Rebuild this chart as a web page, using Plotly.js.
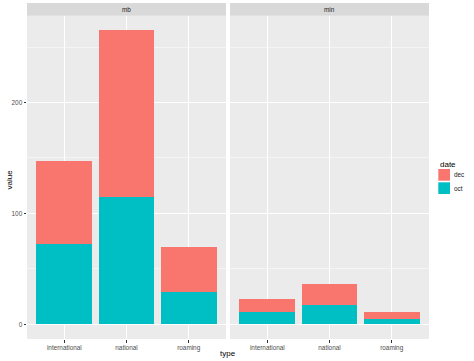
<!DOCTYPE html>
<html>
<head>
<meta charset="utf-8">
<script src="https://cdn.plot.ly/plotly-3.0.1.min.js"></script>
<style>html,body{margin:0;padding:0;background:#fff}#chart{width:474px;height:361px}</style>
</head>
<body>
<div id="chart"></div>
<script>
// ---- data ----
const types = ["international", "national", "roaming"];
const facets = ["mb", "min"];
const dates = ["dec", "oct"];            // legend order
const mbOct = [72, 115, 29.5];
const mbDec = [75, 150, 40];
const minOct = [11, 17, 4.5];
const minDec = [12, 19.5, 7];
const yTicks = [0, 100, 200];
const colors = {dec: "#F8766D", oct: "#00BFC4"};

// ---- layout constants ----
const W = 474, H = 361;
const M = {l: 27, r: 45, t: 3, b: 22};
const PW = W - M.l - M.r, PH = H - M.t - M.b;
const px = x => (x - M.l) / PW;
const py = y => (H - M.b - y) / PH;
const stripH = 12.7;
const yTop = 1 - stripH / PH;
const gapPx = 4;
const half = (PW - gapPx) / 2 / PW;

const maxTot = Math.max(...mbOct.map((v, i) => v + mbDec[i]), ...minOct.map((v, i) => v + minDec[i]));
const yRange = [-0.05 * maxTot, 1.05 * maxTot];

const traces = [
  {type: "bar", x: types, y: mbOct, name: "oct", marker: {color: colors.oct}, xaxis: "x", yaxis: "y", showlegend: false, hoverinfo: "skip"},
  {type: "bar", x: types, y: mbDec, name: "dec", marker: {color: colors.dec}, xaxis: "x", yaxis: "y", showlegend: false, hoverinfo: "skip"},
  {type: "bar", x: types, y: minOct, name: "oct", marker: {color: colors.oct}, xaxis: "x2", yaxis: "y", showlegend: false, hoverinfo: "skip"},
  {type: "bar", x: types, y: minDec, name: "dec", marker: {color: colors.dec}, xaxis: "x2", yaxis: "y", showlegend: false, hoverinfo: "skip"}
];

const tickFont = {family: "Liberation Sans, Arial, sans-serif", size: 6.4, color: "#4D4D4D"};
const titleFont = {family: "Liberation Sans, Arial, sans-serif", size: 8, color: "#000000"};
const stripFont = {family: "Liberation Sans, Arial, sans-serif", size: 6.4, color: "#1A1A1A"};

function xAxis(domain) {
  return {
    domain: domain, anchor: "y", type: "category", categoryorder: "array", categoryarray: types,
    range: [-0.6, types.length - 0.4], showgrid: true, gridcolor: "#FFFFFF", gridwidth: 1.1,
    ticks: "outside", ticklen: 2.5, tickwidth: 1, tickcolor: "#333333", tickfont: tickFont,
    showline: false, zeroline: false, fixedrange: true
  };
}

const shapes = [], annotations = [];
const doms = [[0, half], [1 - half, 1]];
facets.forEach((f, i) => {
  shapes.push({type: "rect", xref: "paper", yref: "paper", x0: doms[i][0], x1: doms[i][1], y0: yTop, y1: 1,
    fillcolor: "#D9D9D9", line: {width: 0}, layer: "below"});
  annotations.push({xref: "paper", yref: "paper", x: (doms[i][0] + doms[i][1]) / 2, y: (yTop + 1) / 2,
    text: f, showarrow: false, font: stripFont, xanchor: "center", yanchor: "middle"});
});
// axis titles
annotations.push({xref: "paper", yref: "paper", x: 0.5, y: py(353), text: "type", showarrow: false, font: titleFont, xanchor: "center", yanchor: "middle"});
annotations.push({xref: "paper", yref: "paper", x: px(8.5), y: py(180), text: "value", textangle: -90, showarrow: false, font: titleFont, xanchor: "center", yanchor: "middle"});
// legend
annotations.push({xref: "paper", yref: "paper", x: px(437.5), y: py(164), text: "date", showarrow: false, font: titleFont, xanchor: "left", yanchor: "middle"});
dates.forEach((d, i) => {
  const top = 169 + i * 13.3, bot = top + 11.7;
  shapes.push({type: "rect", xref: "paper", yref: "paper", x0: px(438.3), x1: px(450), y0: py(bot), y1: py(top),
    fillcolor: colors[d], line: {width: 0}});
  annotations.push({xref: "paper", yref: "paper", x: px(451.5), y: py((top + bot) / 2), text: d, showarrow: false,
    font: stripFont, xanchor: "left", yanchor: "middle"});
});

const layout = {
  width: W, height: H, margin: M, paper_bgcolor: "#FFFFFF", plot_bgcolor: "#EBEBEB",
  barmode: "stack", bargap: 0.1, showlegend: false,
  xaxis: xAxis(doms[0]),
  xaxis2: xAxis(doms[1]),
  yaxis: {
    domain: [0, yTop], anchor: "x", range: yRange, tickvals: yTicks, ticktext: yTicks.map(String),
    showgrid: true, gridcolor: "#FFFFFF", gridwidth: 1.1, zeroline: false, showline: false,
    ticks: "outside", ticklen: 2.5, tickwidth: 1, tickcolor: "#333333", tickfont: tickFont,
    minor: {dtick: 50, tick0: 0, showgrid: true, gridcolor: "#FFFFFF", gridwidth: 0.5, ticks: ""},
    fixedrange: true
  },
  shapes: shapes, annotations: annotations
};

Plotly.newPlot("chart", traces, layout, {displayModeBar: false, staticPlot: true});
</script>
</body>
</html>
